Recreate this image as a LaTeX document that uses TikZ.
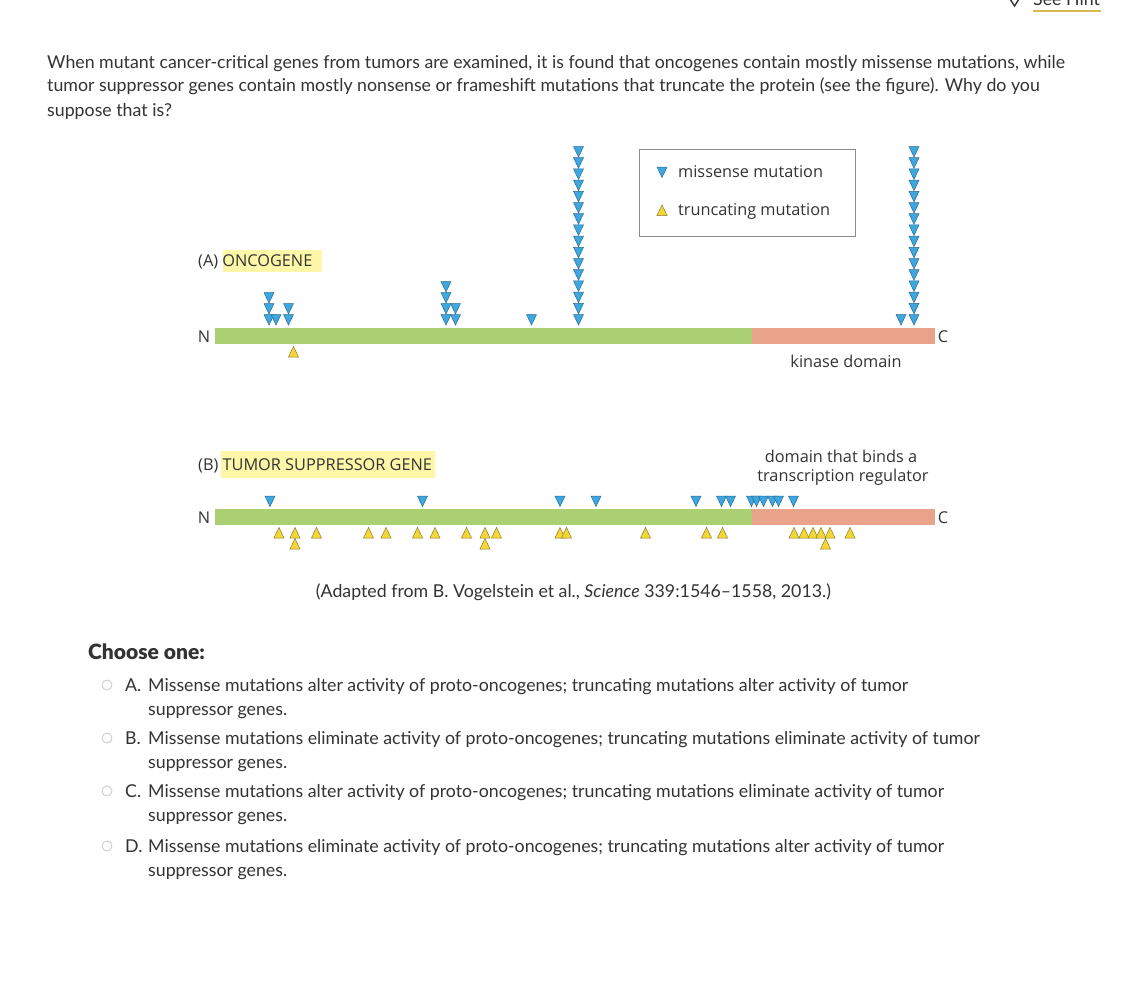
\documentclass[tikz,border=0pt]{standalone}
\usepackage{fontspec}
\setmainfont{Lato}
\newfontfamily\diag{Open Sans}
\newfontfamily\latoblk{Lato Black}
\definecolor{txt}{HTML}{333333}
\definecolor{missblue}{HTML}{3EA7E0}
\definecolor{missedge}{HTML}{2B6A92}
\definecolor{truncyel}{HTML}{F4D634}
\definecolor{truncedge}{HTML}{8C7C2E}
\definecolor{bargreen}{HTML}{AAD073}
\definecolor{barsalmon}{HTML}{EAA38B}
\definecolor{hilite}{HTML}{FFF7A8}
\definecolor{hintgold}{HTML}{D8B850}
\tikzset{
  misT/.pic={\path[fill=missblue,draw=missedge,line width=0.5pt] (-5,-5.5) -- (5,-5.5) -- (0,5) -- cycle;},
  truT/.pic={\path[fill=truncyel,draw=truncedge,line width=0.5pt] (-5,5) -- (5,5) -- (0,-5.5) -- cycle;},
  para/.style={anchor=base west,inner sep=0pt,font=\fontsize{17.75}{22}\selectfont,text=txt},
  lbl/.style={inner sep=0pt,font=\diag\fontsize{16.3}{20}\selectfont,text=txt},
  radio/.style={draw=black!22,line width=0.8pt,circle,minimum size=10pt,inner sep=0pt},
}
\begin{document}
\begin{tikzpicture}[x=1pt,y=-1pt]
\useasboundingbox (0,0) rectangle (1148,982);
\fill[white] (0,0) rectangle (1148,982);
% hint
\draw[txt,line width=1.4pt] (1010,-1) -- (1014.5,6) -- (1019,-1);
\node[para] (hint) at (1033,6) {See Hint};
\draw[hintgold,line width=2pt] (1033,11.5) -- (1101,11.5);
% question
\node[para] (q1) at (47,68) {When mutant cancer-critical genes from tumors are examined, it is found that oncogenes contain mostly missense mutations, while};
\node[para] (q2) at (47,92) {tumor suppressor genes contain mostly nonsense or frameshift mutations that truncate the protein (see the figure). Why do you};
\node[para] (q3) at (47,116) {suppose that is?};
% legend
\node[draw=black!45,line width=0.6pt,minimum width=216pt,minimum height=87pt,anchor=north west,inner sep=0pt] (legend) at (639,149) {};
\pic at (662,172.5) {misT};
\pic at (662,210.5) {truT};
\node[lbl,anchor=base west] (lm) at (678,177.5) {missense mutation};
\node[lbl,anchor=base west] (lt) at (678,215.5) {truncating mutation};
% (A) oncogene
\fill[hilite] (223,250) rectangle (322,272);
\node[lbl,anchor=base west] (la) at (198,266) {(A) ONCOGENE};
\fill[bargreen] (215,328) rectangle (752,344);
\fill[barsalmon] (752,328) rectangle (935,344);
\node[lbl,anchor=base] (na) at (204,342) {N};
\node[lbl,anchor=base] (ca) at (943,342) {C};
\node[lbl,anchor=base] (kin) at (846,367) {kinase domain};
\foreach \x/\y in {269/298,269/309,269/320,276/320,288.5/309,288.5/320,446/287,446/298,446/309,446/320,455.5/309,455.5/320,531.5/320,901/320}
  \pic at (\x,\y) {misT};
\foreach \i in {0,...,15}
  {\pic at (578.5,320-11.2*\i) {misT};
   \pic at (914,320-11.2*\i) {misT};}
\pic at (293.5,352) {truT};
% (B) tumor suppressor
\fill[hilite] (221,451) rectangle (435,478);
\node[lbl,anchor=base west] (lb) at (198,470) {(B) TUMOR SUPPRESSOR GENE};
\fill[bargreen] (215,509) rectangle (752,525);
\fill[barsalmon] (752,509) rectangle (935,525);
\node[lbl,anchor=base] (nb) at (204,523) {N};
\node[lbl,anchor=base] (cb) at (943,523) {C};
\node[lbl,anchor=base] (dom1) at (841,462.5) {domain that binds a};
\node[lbl,anchor=base] (dom2) at (843,481.5) {transcription regulator};
\foreach \x in {270,422.5,560,596,696,721.5,730.5,751.5,756.5,763.5,772.5,778.5,793.5}
  \pic at (\x,501.5) {misT};
\foreach \x in {279,295,316.5,368.5,386,417.5,435,466.5,485,496.5,560,566.5,645.5,706.5,722.5,794,804,813,821,830,850}
  \pic at (\x,533) {truT};
\foreach \x in {295,485,825.5}
  \pic at (\x,544) {truT};
% caption
\node[para,anchor=base] (cap) at (573.5,597) {(Adapted from B. Vogelstein et al., \textit{Science} 339:1546--1558, 2013.)};
% choices
\node[para,font=\latoblk\fontsize{21}{24}\selectfont,text=txt] (choose) at (88,659) {Choose one:};
\foreach \yy/\lt/\la/\lb [count=\k] in {691/A./{Missense mutations alter activity of proto-oncogenes; truncating mutations alter activity of tumor}/{suppressor genes.},
  744/B./{Missense mutations eliminate activity of proto-oncogenes; truncating mutations eliminate activity of tumor}/{suppressor genes.},
  797/C./{Missense mutations alter activity of proto-oncogenes; truncating mutations eliminate activity of tumor}/{suppressor genes.},
  852/D./{Missense mutations eliminate activity of proto-oncogenes; truncating mutations alter activity of tumor}/{suppressor genes.}}
{
  \node[radio] (r\k) at (107,\yy-6) {};
  \node[para] (o\k) at (125,\yy) {\lt};
  \node[para] (t\k) at (148,\yy) {\la};
  \node[para] (u\k) at (148,\yy+24) {\lb};
}
\end{tikzpicture}
\end{document}
